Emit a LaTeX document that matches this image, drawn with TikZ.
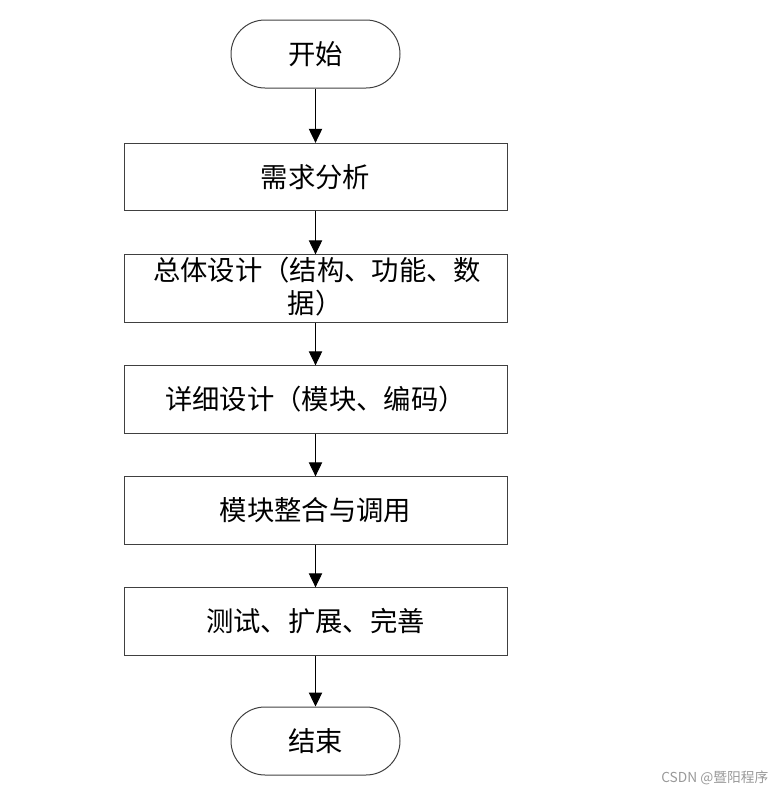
\documentclass[tikz,border=0pt]{standalone}
\usepackage{fontspec}
\setmainfont{Noto Sans CJK SC}
\usetikzlibrary{arrows.meta}
\begin{document}
\begin{tikzpicture}[x=0.75pt,y=-0.75pt,
  every node/.style={font=\fontsize{20.5}{25}\selectfont},
  procbox/.style={draw=black!75, line width=0.75pt, minimum width=287.25pt, minimum height=50.5pt, inner sep=0pt, align=center},
  termbox/.style={draw=black!75, line width=0.75pt, minimum width=126.75pt, minimum height=51pt, rounded corners=25.5pt, inner sep=0pt},
  flow/.style={draw=black, line width=0.75pt, -{Triangle[width=10pt,length=10.5pt]}}]
\useasboundingbox (0,0) rectangle (779,793);
\node[termbox] (start) at (315.5,54) {开始};
\node[procbox] (req) at (315.5,177) {需求分析};
\node[procbox] (overall) at (315.5,288.5) {};
\node (ov1) at (317,270) {总体设计（结构、功能、数};
\node (ov2) at (315,303) {据）};
\node[procbox] (detail) at (315.5,399.5) {详细设计（模块、编码）};
\node[procbox] (integ) at (315.5,510.5) {模块整合与调用};
\node[procbox] (test) at (315.5,621.5) {测试、扩展、完善};
\node[termbox] (end) at (315.5,741) {结束};
\draw[flow] (start) -- (req);
\draw[flow] (req) -- (overall);
\draw[flow] (overall) -- (detail);
\draw[flow] (detail) -- (integ);
\draw[flow] (integ) -- (test);
\draw[flow] (test) -- (end);
\node[anchor=east, text=black!40, font=\fontsize{10.3}{12}\selectfont] (wm) at (773,778) {CSDN @暨阳程序};
\end{tikzpicture}
\end{document}
